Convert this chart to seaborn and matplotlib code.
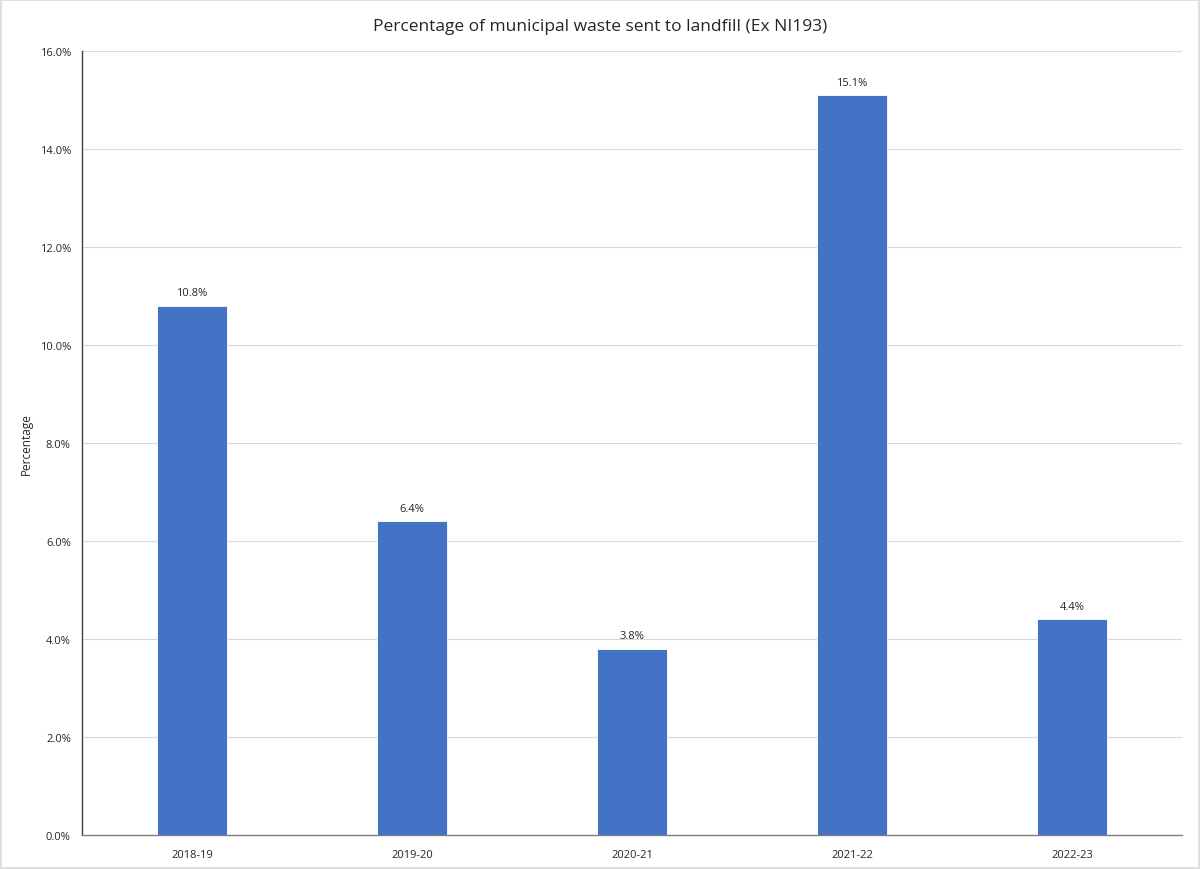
import matplotlib
matplotlib.use("Agg")
import matplotlib.pyplot as plt
import matplotlib.ticker as mticker
from matplotlib.patches import Rectangle
import pandas as pd
import seaborn as sns

YEARS = ["2018-19", "2019-20", "2020-21", "2021-22", "2022-23"]
LANDFILL_PCT = [10.8, 6.4, 3.8, 15.1, 4.4]

TITLE = "Percentage of municipal waste sent to landfill (Ex NI193)"
BAR_COLOR = "#4472C4"
TEXT = "#262626"


def main() -> None:
    sns.set_theme(style="white")
    plt.rcParams["font.family"] = ["Open Sans", "DejaVu Sans"]

    df = pd.DataFrame({"year": YEARS, "pct": LANDFILL_PCT})

    fig = plt.figure(figsize=(12, 8.7), dpi=100)
    ax = fig.add_axes([0.0683, 0.0391, 0.9167, 0.9011])

    sns.barplot(data=df, x="year", y="pct", color=BAR_COLOR, saturation=1,
                width=0.314, edgecolor="white", linewidth=0.6, ax=ax, zorder=3)

    for patch, v in zip(ax.patches, LANDFILL_PCT):
        ax.text(patch.get_x() + patch.get_width() / 2, v + 0.15, f"{v:.1f}%",
                ha="center", va="bottom", fontsize=8, color=TEXT)

    ax.set_ylim(0, 16)
    ax.set_xlim(-0.5, len(YEARS) - 0.5)
    ax.yaxis.set_major_locator(mticker.MultipleLocator(2))
    ax.yaxis.set_major_formatter(mticker.FuncFormatter(lambda v, _: f"{v:.1f}%"))
    ax.grid(axis="y", color="#d9d9d9", linewidth=0.8, zorder=0)
    ax.tick_params(axis="both", length=0, labelsize=8, labelcolor=TEXT, pad=8)
    ax.tick_params(axis="x", pad=10)

    for side in ["top", "right"]:
        ax.spines[side].set_visible(False)
    ax.spines["left"].set_color("#404040")
    ax.spines["left"].set_linewidth(1.0)
    ax.spines["bottom"].set_color("#7f7f7f")
    ax.spines["bottom"].set_linewidth(1.0)

    ax.set_xlabel("")
    ax.set_ylabel("Percentage", fontsize=8.5, color=TEXT, labelpad=5)
    fig.text(0.5, 0.969, TITLE, ha="center", va="center", fontsize=12.5, color=TEXT)

    fig.patches.append(Rectangle((0.001, 0.001), 0.998, 0.998, transform=fig.transFigure,
                                 fill=False, edgecolor="#d9d9d9", linewidth=1.2))

    fig.savefig("out.png", dpi=100)
    plt.close(fig)


if __name__ == "__main__":
    main()
